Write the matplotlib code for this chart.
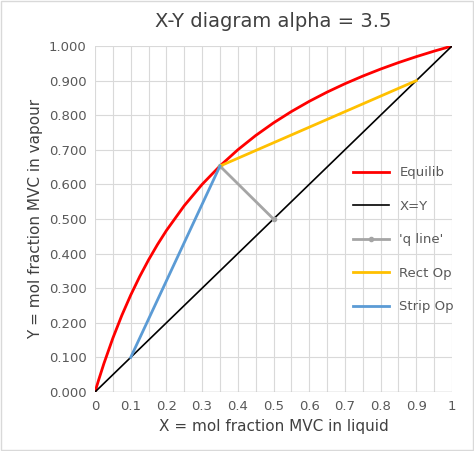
import matplotlib
matplotlib.use("Agg")
import matplotlib.pyplot as plt
import numpy as np

eq_x = [0, 0.01, 0.025, 0.05, 0.075, 0.1, 0.125, 0.15, 0.175, 0.2, 0.25, 0.3, 0.35, 0.4, 0.45, 0.5, 0.55, 0.6, 0.65, 0.7, 0.75, 0.8, 0.85, 0.9, 0.95, 1.0]
eq_y = [0, 0.0341, 0.0824, 0.1556, 0.2211, 0.28, 0.3333, 0.3818, 0.4261, 0.4667, 0.5385, 0.6, 0.6533, 0.7, 0.7412, 0.7778, 0.8105, 0.84, 0.8667, 0.8909, 0.913, 0.9333, 0.952, 0.9692, 0.9852, 1.0]
xy_x = [0, 1]; xy_y = [0, 1]
q_x = [0.35, 0.5]; q_y = [0.653, 0.5]
rect_x = [0.35, 0.9]; rect_y = [0.653, 0.9]
strip_x = [0.1, 0.35]; strip_y = [0.1, 0.653]

fig = plt.figure(figsize=(4.74, 4.51), dpi=100)
ax = fig.add_axes([95/474, 59/451, 357/474, 346/451])
for s in ax.spines.values():
    s.set_visible(False)
ax.set_xticks(np.arange(0, 1.0001, 0.05), minor=True)
ax.grid(True, which='both', axis='x', color='#d9d9d9', lw=0.8)
ax.grid(True, which='major', axis='y', color='#d9d9d9', lw=0.8)
ax.set_axisbelow(True)
ax.axhline(0, color='#bfbfbf', lw=1)

ax.plot(eq_x, eq_y, color='#ff0000', lw=2, label='Equilib')
ax.plot(xy_x, xy_y, color='black', lw=1.2, label='X=Y')
ax.plot(q_x, q_y, color='#a5a5a5', lw=2, marker='o', ms=3, label="'q line'")
ax.plot(rect_x, rect_y, color='#ffc000', lw=2, label='Rect Op')
ax.plot(strip_x, strip_y, color='#5b9bd5', lw=2, label='Strip Op')

ax.set_xlim(0, 1); ax.set_ylim(0, 1)
ax.set_xticks(np.arange(0, 1.01, 0.1))
ax.set_xticklabels(['0', '0.1', '0.2', '0.3', '0.4', '0.5', '0.6', '0.7', '0.8', '0.9', '1'])
ax.set_yticks(np.arange(0, 1.01, 0.1))
ax.set_yticklabels([f'{v:.3f}' for v in np.arange(0, 1.01, 0.1)])
ax.tick_params(which='both', length=0, labelsize=9.5, colors='#595959', pad=6)
ax.set_xlabel('X = mol fraction MVC in liquid', fontsize=11, color='#404040')
ax.set_ylabel('Y = mol fraction MVC in vapour', fontsize=11, color='#404040')
ax.set_title('X-Y diagram alpha = 3.5', fontsize=14, color='#404040', pad=14)
ax.legend(loc='center left', bbox_to_anchor=(0.69, 0.44), frameon=False,
          labelspacing=1.55, fontsize=9.5, labelcolor='#595959', handlelength=2.7)
fig.patches.append(plt.Rectangle((0.002, 0.002), 0.996, 0.996, transform=fig.transFigure,
                                 fill=False, edgecolor='#d9d9d9', lw=1))
fig.savefig('out.png', dpi=100)
